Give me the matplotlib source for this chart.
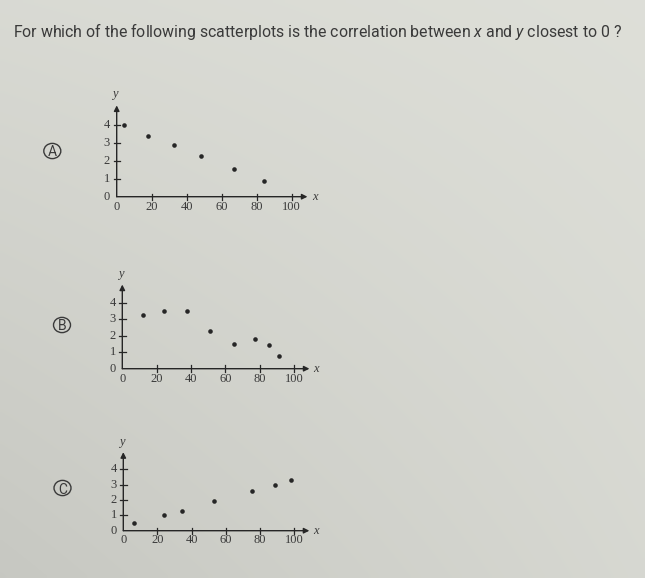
"""Three small scatterplots (A, B, C) from a correlation worksheet question."""

import matplotlib

matplotlib.use("Agg")
import matplotlib.pyplot as plt  # noqa: E402
import numpy as np  # noqa: E402
from matplotlib.patches import Circle  # noqa: E402

a_x = [4, 18, 33, 48, 67, 84]
a_y = [4.0, 3.4, 2.9, 2.3, 1.55, 0.9]

b_x = [12, 24, 37.5, 51, 65, 77.5, 85.5, 91]
b_y = [3.25, 3.5, 3.5, 2.3, 1.5, 1.8, 1.45, 0.75]

c_x = [6, 24, 34.5, 53, 75.5, 89, 98]
c_y = [0.5, 1.0, 1.3, 1.9, 2.55, 3.0, 3.3]

x_ticks = [0, 20, 40, 60, 80, 100]
y_ticks = [0, 1, 2, 3, 4]
letters = ["A", "B", "C"]

W, H = 645, 578
INK = "#262626"
TEXT = "#3a3a3a"
SERIF = "Liberation Serif"

plt.rcParams["mathtext.fontset"] = "custom"
plt.rcParams["mathtext.it"] = "Roboto:italic"
plt.rcParams["mathtext.rm"] = "Roboto"

# (origin px x, origin px y, px per x unit, px per y unit, letter centre x, y)
_PANELS = [
    (116.7, 196.7, 1.75, 17.9, 52.3, 151.0),
    (122.3, 368.7, 1.717, 16.5, 62.0, 325.0),
    (123.3, 530.7, 1.707, 15.4, 62.5, 488.0),
]
XLIM = (-14, 118)
YLIM = (-1.1, 6.0)

fig = plt.figure(figsize=(W / 100, H / 100), dpi=100)

# photographed paper: soft grey gradient
bg = fig.add_axes([0, 0, 1, 1], zorder=-5)
yy, xx = np.mgrid[0:1:120j, 0:1:140j]
shade = 0.85 - 0.07 * yy * (1 - 0.6 * xx) + 0.02 * xx
rgb = np.dstack([shade * 1.0, shade * 1.005, shade * 0.975]).clip(0, 1)
bg.imshow(rgb, aspect="auto", extent=[0, 1, 0, 1], interpolation="bilinear")
bg.set_axis_off()

fig.text(13 / W, 1 - 31 / H,
         "For which of the following scatterplots is the correlation between "
         r"$x$ and $y$ closest to 0 ?",
         fontsize=11.4, family="Roboto", color=TEXT, va="center", ha="left")


def _panel(xs, ys, spec, letter):
    ox, oy, sx, sy, lx, ly = spec
    left = ox + XLIM[0] * sx
    width = (XLIM[1] - XLIM[0]) * sx
    bottom = oy - YLIM[0] * sy  # pixel y (down) of the lower edge
    height = (YLIM[1] - YLIM[0]) * sy
    ax = fig.add_axes([left / W, 1 - bottom / H, width / W, height / H])
    ax.set_xlim(*XLIM)
    ax.set_ylim(*YLIM)
    ax.patch.set_alpha(0)
    for s in ax.spines.values():
        s.set_visible(False)
    ax.set_xticks([])
    ax.set_yticks([])

    arrow = dict(arrowstyle="-|>", color=INK, lw=1.0, mutation_scale=8,
                 shrinkA=0, shrinkB=0)
    ax.annotate("", xy=(0, 5.1), xytext=(0, 0), arrowprops=arrow)
    ax.annotate("", xy=(109, 0), xytext=(0, 0), arrowprops=arrow)
    ax.text(-1, 5.75, "y", family=SERIF, style="italic", fontsize=9,
            color=TEXT, ha="center", va="center")
    ax.text(113, 0, "x", family=SERIF, style="italic", fontsize=9,
            color=TEXT, ha="center", va="center")

    tick_x = 3.2 / sy
    tick_y = 3.2 / sx
    for t in x_ticks:
        if t:
            ax.plot([t, t], [-tick_x, tick_x], color=INK, lw=0.9)
        ax.text(t, -0.6, str(t), family=SERIF, fontsize=9, color=TEXT,
                ha="center", va="center")
    for t in y_ticks:
        if t:
            ax.plot([-tick_y, tick_y], [t, t], color=INK, lw=0.9)
        ax.text(-3.8, t, str(t), family=SERIF, fontsize=9, color=TEXT,
                ha="right", va="center")

    ax.plot(xs, ys, "o", color=INK, markersize=3.3, markeredgewidth=0)

    fig.patches.append(Circle((lx / W, 1 - ly / H), 8.5 / W, transform=fig.transFigure,
                              fill=False, ec=TEXT, lw=1.0))
    fig.text(lx / W, 1 - ly / H, letter, family="Roboto", fontsize=10,
             color=TEXT, ha="center", va="center_baseline")


for xs, ys, spec, letter in zip([a_x, b_x, c_x], [a_y, b_y, c_y], _PANELS, letters):
    _panel(xs, ys, spec, letter)

fig.savefig("out.png", dpi=100)
